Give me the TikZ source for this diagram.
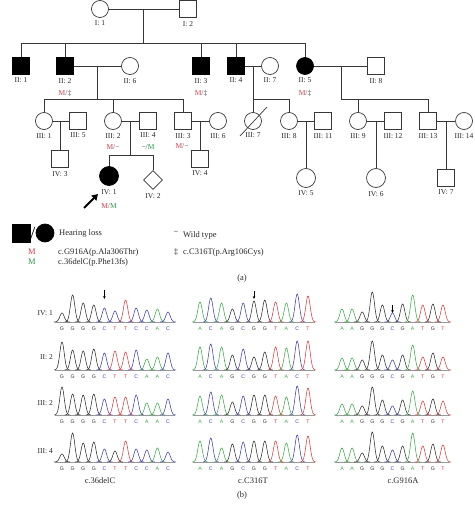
\documentclass[tikz,border=0pt]{standalone}
\usepackage{fontspec}
\setmainfont{Liberation Serif}
\newfontfamily\seqfont{Liberation Sans}
\usepackage{tikz}
\usetikzlibrary{arrows.meta,shapes.geometric,positioning}
\definecolor{PedLine}{RGB}{55,55,55}
\definecolor{MutRed}{RGB}{212,60,72}
\definecolor{MutGreen}{RGB}{46,150,76}
\definecolor{seqG}{RGB}{45,45,45}
\definecolor{seqC}{RGB}{60,60,185}
\definecolor{seqT}{RGB}{222,58,62}
\definecolor{seqA}{RGB}{56,170,70}

% one sequencing trace: x of first base, base spacing, baseline y, list height/trace/call
\newcommand{\seqtrace}[4]{%
  \draw[black!40,line width=0.3pt] (#1-7,#3) -- (#1+10*#2+7,#3);
  \foreach \ph/\tc/\bc [count=\i from 0] in {#4}{%
    \pgfmathsetmacro{\px}{#1+\i*#2}%
    \draw[draw=seq\tc,line width=0.55pt] plot[domain=\px-8:\px+8,samples=31,smooth]
      (\x,{#3-\ph*exp(-((\x-\px)/3.1)^2)});
    \node[seqlbl,text=seq\bc] at (\px,#3+7) {\bc};
  }%
}

\begin{document}
\begin{tikzpicture}[x=1pt,y=-1pt,
    male/.style={draw=PedLine,line width=0.7pt,minimum size=17pt,inner sep=0pt},
    female/.style={male,circle},
    nosex/.style={male,diamond,minimum size=19pt},
    aff/.style={fill=black,draw=black},
    pid/.style={font=\fontsize{7.5}{8}\selectfont,inner sep=1pt,text=black!85},
    geno/.style={font=\fontsize{7.5}{8}\selectfont,inner sep=1pt,text=black!70},
    lnk/.style={draw=PedLine,line width=0.7pt},
    legtxt/.style={font=\fontsize{8.5}{9}\selectfont,inner sep=1pt,text=black!85},
    seqlbl/.style={font=\seqfont\fontsize{5.2}{5.2}\selectfont,inner sep=0pt},
    callarr/.style={-{Stealth[length=3pt,width=2.6pt]},line width=0.5pt},
    proband/.style={-{Triangle[length=6pt,width=7pt]},line width=2pt},
    label distance=2pt
  ]
  \useasboundingbox (0,0) rectangle (474,513);

  % generation I
  \node[female,label={[pid]below:{I: 1}}] (I1) at (100,9) {};
  \node[male,label={[pid]below:{I: 2}}] (I2) at (188,9) {};

  % generation II
  \node[male,aff,label={[pid]below:{II: 1}}] (II1) at (21,66) {};
  \node[male,aff,label={[pid]below:{II: 2}}] (II2) at (65,66) {};
  \node[female,label={[pid]below:{II: 6}}] (II6) at (130,66) {};
  \node[male,aff,label={[pid]below:{II: 3}}] (II3) at (201,66) {};
  \node[male,aff,label={[pid]below:{II: 4}}] (II4) at (236,66) {};
  \node[female,label={[pid]below:{II: 7}}] (II7) at (270,66) {};
  \node[female,aff,label={[pid]below:{II: 5}}] (II5) at (305,66) {};
  \node[male,label={[pid]below:{II: 8}}] (II8) at (376,66) {};

  % generation III
  \node[female,label={[pid]below:{III: 1}}] (III1) at (44,121) {};
  \node[male,label={[pid]below:{III: 5}}] (III5) at (78,121) {};
  \node[female,label={[pid]below:{III: 2}}] (III2) at (113,121) {};
  \node[male,label={[pid]below:{III: 4}}] (III4) at (148,121) {};
  \node[male,label={[pid]below:{III: 3}}] (III3) at (183,121) {};
  \node[female,label={[pid]below:{III: 6}}] (III6) at (218,121) {};
  \node[female,label={[pid]below:{III: 7}}] (III7) at (253,121) {};
  \node[female,label={[pid]below:{III: 8}}] (III8) at (289,121) {};
  \node[male,label={[pid]below:{III: 11}}] (III11) at (323,121) {};
  \node[female,label={[pid]below:{III: 9}}] (III9) at (358,121) {};
  \node[male,label={[pid]below:{III: 12}}] (III12) at (393,121) {};
  \node[male,label={[pid]below:{III: 13}}] (III13) at (428,121) {};
  \node[female,label={[pid]below:{III: 14}}] (III14) at (464,121) {};

  % generation IV
  \node[male,label={[pid]below:{IV: 3}}] (IV3) at (60,159) {};
  \node[female,aff,minimum height=19pt,label={[pid]below:{IV: 1}}] (IV1) at (109,176) {};
  \node[nosex,label={[pid]below:{IV: 2}}] (IV2) at (153,180) {};
  \node[male,label={[pid]below:{IV: 4}}] (IV4) at (200,159) {};
  \node[female,minimum height=19pt,label={[pid]below:{IV: 5}}] (IV5) at (306,178) {};
  \node[female,minimum height=19pt,label={[pid]below:{IV: 6}}] (IV6) at (376,178) {};
  \node[male,label={[pid]below:{IV: 7}}] (IV7) at (446,178) {};

  % genotypes
  \node[geno,below=14pt of II2] (II2g) {\textcolor{MutRed}{M}/‡};
  \node[geno,below=14pt of II3] (II3g) {\textcolor{MutRed}{M}/‡};
  \node[geno,below=14pt of II5] (II5g) {\textcolor{MutRed}{M}/‡};
  \node[geno,below=14pt of III2] (III2g) {\textcolor{MutRed}{M}/−};
  \node[geno,below=14pt of III4] (III4g) {−/\textcolor{MutGreen}{M}};
  \node[geno,below=13pt of III3,xshift=-1pt] (III3g) {\textcolor{MutRed}{M}/−};
  \node[geno,below=17pt of IV1] (IV1g) {\textcolor{MutRed}{M}/\textcolor{MutGreen}{M}};

  % matings and sibships
  \coordinate (m0) at (143,9);   \coordinate (s0) at (143,43);
  \coordinate (m1) at (97,66);   \coordinate (s1) at (97,99);
  \coordinate (m2) at (253,66);  \coordinate (s2) at (253,99);
  \coordinate (m3) at (341,66);  \coordinate (s3) at (341,99);
  \coordinate (m4) at (60,121);
  \coordinate (m5) at (130,121); \coordinate (s5) at (130,155);
  \coordinate (m6) at (200,121);
  \coordinate (m7) at (306,121);
  \coordinate (m8) at (376,121);
  \coordinate (m9) at (446,121);

  \draw[lnk] (I1) -- (I2);
  \draw[lnk] (m0) -- (s0);
  \draw[lnk] (II1.north |- s0) -- (II5.north |- s0);
  \foreach \k in {II1,II2,II3,II4,II5} \draw[lnk] (\k.north |- s0) -- (\k.north);

  \draw[lnk] (II2) -- (II6);
  \draw[lnk] (m1) -- (s1);
  \draw[lnk] (III1.north |- s1) -- (III3.north |- s1);
  \foreach \k in {III1,III2,III3} \draw[lnk] (\k.north |- s1) -- (\k.north);

  \draw[lnk] (II4) -- (II7);
  \draw[lnk] (m2) -- (s2);
  \draw[lnk] (III7.north |- s2) -- (III8.north |- s2);
  \foreach \k in {III7,III8} \draw[lnk] (\k.north |- s2) -- (\k.north);

  \draw[lnk] (II5) -- (II8);
  \draw[lnk] (m3) -- (s3);
  \draw[lnk] (s3) -- (III13.north |- s3);
  \foreach \k in {III9,III13} \draw[lnk] (\k.north |- s3) -- (\k.north);

  \draw[lnk] (III1) -- (III5);
  \draw[lnk] (m4) -- (IV3);
  \draw[lnk] (III2) -- (III4);
  \draw[lnk] (m5) -- (s5);
  \draw[lnk] (IV1.north |- s5) -- (IV2.north |- s5);
  \draw[lnk] (IV1.north |- s5) -- (IV1.north);
  \draw[lnk] (IV2.north |- s5) -- (IV2.north);
  \draw[lnk] (III3) -- (III6);
  \draw[lnk] (m6) -- (IV4);
  \draw[lnk] (III8) -- (III11);
  \draw[lnk] (m7) -- (IV5);
  \draw[lnk] (III9) -- (III12);
  \draw[lnk] (m8) -- (IV6);
  \draw[lnk] (III13) -- (III14);
  \draw[lnk] (m9) -- (IV7);

  % deceased
  \draw[lnk] ([shift={(-13,15)}]III7.center) -- ([shift={(14,-14)}]III7.center);

  % proband
  \coordinate (pa) at (84,208);
  \coordinate (pb) at (98,194);
  \draw[proband] (pa) -- (pb);

  % legend
  \node[male,aff,minimum size=18pt] (LgM) at (21,233) {};
  \node[female,aff,minimum size=18pt] (LgF) at (45,233) {};
  \node[font=\fontsize{17}{17}\selectfont,inner sep=0pt] (LgS) at (33,233) {/};
  \node[legtxt,anchor=west] (LgHL) at (58,233) {Hearing loss};
  \node[legtxt] (LgWd) at (176,233) {−};
  \node[legtxt,anchor=west] (LgWt) at (182,235) {Wild type};
  \node[legtxt,text=MutRed] (LgMr) at (32,252) {M};
  \node[legtxt,anchor=west] (LgMrT) at (57,252) {c.G916A(p.Ala306Thr)};
  \node[legtxt] (LgDd) at (176,252) {‡};
  \node[legtxt,anchor=west] (LgDdT) at (182,252) {c.C316T(p.Arg106Cys)};
  \node[legtxt,text=MutGreen] (LgMg) at (32,262) {M};
  \node[legtxt,anchor=west] (LgMgT) at (57,262) {c.36delC(p.Phe13fs)};
  \node[legtxt] (capa) at (242,278) {(a)};

  % sequencing traces
  \node[pid,anchor=east] (rIV1) at (54,313) {IV: 1};
  \node[pid,anchor=east] (rII2) at (54,357) {II: 2};
  \node[pid,anchor=east] (rIII2) at (54,403) {III: 2};
  \node[pid,anchor=east] (rIII4) at (54,451) {III: 4};

  \seqtrace{62}{10.6}{322}{9/G/G,27/G/G,19/G/G,17/G/G,14/C/C,11/C/T,22/T/T,14/C/C,12/C/C,13/A/A,10/C/C}
  \seqtrace{62}{10.6}{370}{28/G/G,20/G/G,19/G/G,21/G/G,17/C/C,19/T/T,18/T/T,20/C/C,11/A/A,13/A/A,17/C/C}
  \seqtrace{62}{10.6}{415}{28/G/G,21/G/G,20/G/G,21/G/G,16/C/C,18/T/T,18/T/T,20/C/C,12/A/A,12/A/A,16/C/C}
  \seqtrace{62}{10.6}{462}{8/G/G,29/G/G,19/G/G,20/G/G,13/C/C,11/G/T,21/T/T,13/C/C,12/C/C,14/A/A,10/C/C}

  \seqtrace{200}{10.8}{322}{20/A/A,24/C/C,19/A/A,13/G/G,19/C/C,21/G/G,22/G/G,20/T/T,19/A/A,28/C/C,26/T/T}
  \seqtrace{200}{10.8}{370}{23/A/A,26/C/C,23/A/A,15/G/G,21/C/C,13/G/G,18/G/G,23/T/T,22/A/A,29/C/C,29/T/T}
  \seqtrace{200}{10.8}{415}{19/A/A,23/C/C,20/A/A,13/G/G,19/C/C,20/G/G,20/G/G,19/T/T,18/A/A,29/C/C,27/T/T}
  \seqtrace{200}{10.8}{462}{21/A/A,24/C/C,14/A/A,18/G/G,20/C/C,21/G/G,21/G/G,21/T/T,19/A/A,27/C/C,26/T/T}

  \seqtrace{342}{10.1}{322}{13/A/A,13/A/A,10/G/G,30/G/G,17/G/G,9/C/C,18/G/G,27/A/A,17/T/T,18/G/G,17/T/T}
  \seqtrace{342}{10.1}{370}{12/A/A,12/A/A,10/G/G,29/G/G,15/G/G,10/C/C,15/G/G,25/A/A,13/T/T,17/G/G,13/T/T}
  \seqtrace{342}{10.1}{415}{11/A/A,11/A/A,9/G/G,28/G/G,15/G/G,9/C/C,15/G/G,24/A/A,14/T/T,16/G/G,14/T/T}
  \seqtrace{342}{10.1}{462}{14/A/A,14/A/A,9/G/G,30/G/G,16/G/G,12/C/C,16/G/G,29/A/A,16/T/T,18/G/G,17/T/T}

  \draw[callarr] (104.4,290) -- (104.4,299);
  \draw[callarr] (254,291) -- (254,299);
  \draw[callarr] (392.5,305) -- (392.5,313);

  \node[legtxt] (capC1) at (100,481) {c.36delC};
  \node[legtxt] (capC2) at (253,481) {c.C316T};
  \node[legtxt] (capC3) at (403,481) {c.G916A};
  \node[legtxt] (capb) at (242,495) {(b)};
\end{tikzpicture}
\end{document}
